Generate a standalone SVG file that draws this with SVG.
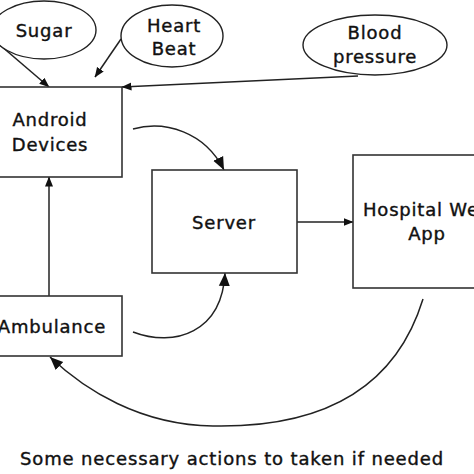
<svg xmlns="http://www.w3.org/2000/svg" width="474" height="474" viewBox="0 0 474 474">
<style>
.box{fill:#fff;stroke:#333;stroke-width:1.6}
.ell{fill:#fff;stroke:#222;stroke-width:1.4}
.t{font-family:"DejaVu Sans",sans-serif;font-size:18px;fill:#111;stroke:#111;stroke-width:0.4;text-anchor:middle;letter-spacing:0.8px}
.c{fill:none;stroke:#222;stroke-width:1.5}
</style>
<defs>
<marker id="ah" markerUnits="userSpaceOnUse" markerWidth="14" markerHeight="14" viewBox="0 0 14 14" refX="13" refY="7" orient="auto">
<path d="M0,1.5 L13,7 L0,12.5 Z" fill="#111"/>
</marker>
<marker id="as" markerUnits="userSpaceOnUse" markerWidth="10" markerHeight="10" viewBox="0 0 10 10" refX="9.5" refY="5" orient="auto">
<path d="M0,1 L10,5 L0,9 Z" fill="#111"/>
</marker>
</defs>
<rect width="474" height="474" fill="#fff"/>
<g id="connectors">
<path class="c" d="M0,45 L49,87" marker-end="url(#as)"/>
<path class="c" d="M121,39 L95,77" marker-end="url(#as)"/>
<path class="c" d="M358,76 L122,87" marker-end="url(#as)"/>
<path class="c" d="M49,296 L49,177" marker-end="url(#as)"/>
<path class="c" d="M297,222 L353,222" marker-end="url(#as)"/>
<path class="c" d="M133,129 C165,120 205,132 224,170" marker-end="url(#ah)"/>
<path class="c" d="M133,332 C175,348 222,332 225,273" marker-end="url(#ah)"/>
<path class="c" d="M423,299 C395,390 320,428 213,426 C140,425 85,390 50,357" marker-end="url(#ah)"/>
</g>
<g id="sugar">
<ellipse class="ell" cx="44" cy="30" rx="52" ry="29"/>
<text class="t" x="44" y="37">Sugar</text>
</g>
<g id="heartbeat">
<ellipse class="ell" cx="172" cy="36" rx="51" ry="31"/>
<text class="t" x="174" y="32">Heart</text>
<text class="t" x="174" y="55">Beat</text>
</g>
<g id="bloodpressure">
<ellipse class="ell" cx="375" cy="45" rx="72" ry="30"/>
<text class="t" x="375" y="39">Blood</text>
<text class="t" x="375" y="63">pressure</text>
</g>
<g id="android">
<rect class="box" x="-5" y="87" width="127" height="90"/>
<text class="t" x="50" y="126">Android</text>
<text class="t" x="50" y="151">Devices</text>
</g>
<g id="server">
<rect class="box" x="152" y="170" width="145" height="103"/>
<text class="t" x="224" y="229">Server</text>
</g>
<g id="hospital">
<rect class="box" x="353" y="155" width="150" height="133"/>
<text class="t" x="427" y="216">Hospital Web</text>
<text class="t" x="427" y="240">App</text>
</g>
<g id="ambulance">
<rect class="box" x="-5" y="296" width="127" height="60"/>
<text class="t" x="52" y="333">Ambulance</text>
</g>
<text class="t" x="232" y="465" textLength="424" lengthAdjust="spacing">Some necessary actions to taken if needed</text>
</svg>
